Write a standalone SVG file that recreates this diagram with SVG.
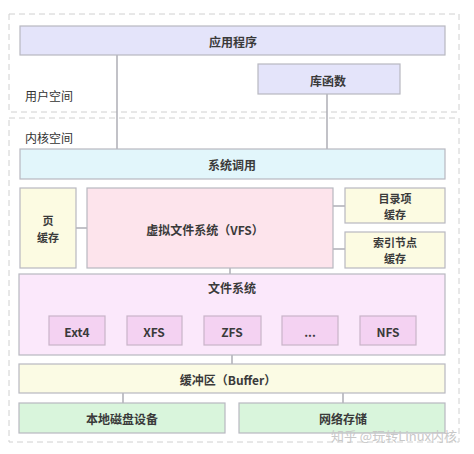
<svg xmlns="http://www.w3.org/2000/svg" width="474" height="454" viewBox="0 0 474 454">
<style>
.t{font-family:"Noto Sans CJK SC","Liberation Sans",sans-serif;font-size:12px;font-weight:bold;fill:#3a3a3a;text-anchor:middle;dominant-baseline:central}
.s{font-size:11px}
.l{font-family:"Noto Sans CJK SC","Liberation Sans",sans-serif;font-size:12px;fill:#333;dominant-baseline:central}
.b{stroke:#b8b8c0;stroke-width:1.2}
.zone{fill:none;stroke:#d0d0d0;stroke-width:1;stroke-dasharray:6 4}
.c{stroke:#a8a8b0;stroke-width:1.4;fill:none}
.fsi{fill:#f4d2f2;stroke:#c8b4c8;stroke-width:1.2}
</style>
<rect width="474" height="454" fill="#ffffff"/>
<g id="zones">
<rect class="zone" x="9" y="14" width="450" height="98"/>
<rect class="zone" x="9" y="118" width="450" height="324"/>
<text class="l" x="25" y="95">用户空间</text>
<text class="l" x="25" y="137">内核空间</text>
</g>
<g id="connectors">
<line class="c" x1="117" y1="55" x2="117" y2="149"/>
<line class="c" x1="327" y1="94" x2="327" y2="149"/>
<line class="c" x1="76" y1="228" x2="87" y2="228"/>
<line class="c" x1="333" y1="206" x2="345" y2="206"/>
<line class="c" x1="333" y1="249" x2="345" y2="249"/>
<line class="c" x1="230" y1="268" x2="230" y2="274"/>
<line class="c" x1="232" y1="355" x2="232" y2="364"/>
<line class="c" x1="123" y1="393" x2="123" y2="403"/>
<line class="c" x1="343" y1="393" x2="343" y2="403"/>
</g>
<g id="app"><rect class="b" x="20" y="26" width="425" height="29" fill="#e4e4fa"/><text class="t" x="233" y="41">应用程序</text></g>
<g id="lib"><rect class="b" x="258" y="64" width="142" height="30" fill="#e4e4fa"/><text class="t" x="328" y="80">库函数</text></g>
<g id="syscall"><rect class="b" x="20" y="149" width="425" height="30" fill="#e2f6fb"/><text class="t" x="232" y="164">系统调用</text></g>
<g id="pagecache"><rect class="b" x="20" y="188" width="56" height="80" fill="#fcfbe2"/><text class="t s" x="48" y="220">页</text><text class="t s" x="48" y="237">缓存</text></g>
<g id="vfs"><rect class="b" x="87" y="188" width="246" height="80" fill="#fde4ec"/><text class="t" x="205" y="229">虚拟文件系统（VFS）</text></g>
<g id="dentry"><rect class="b" x="345" y="188" width="100" height="35" fill="#fcfbe2"/><text class="t s" x="395" y="198">目录项</text><text class="t s" x="395" y="214">缓存</text></g>
<g id="inode"><rect class="b" x="345" y="232" width="100" height="36" fill="#fcfbe2"/><text class="t s" x="395" y="242">索引节点</text><text class="t s" x="395" y="258">缓存</text></g>
<g id="fs"><rect class="b" x="19" y="274" width="426" height="81" fill="#fbe8fb"/><text class="t" x="232" y="287">文件系统</text></g>
<g id="ext4"><rect class="fsi" x="49" y="316" width="56" height="29"/><text class="t" x="77" y="331">Ext4</text></g>
<g id="xfs"><rect class="fsi" x="127" y="316" width="55" height="29"/><text class="t" x="154" y="331">XFS</text></g>
<g id="zfs"><rect class="fsi" x="204" y="316" width="57" height="29"/><text class="t" x="232" y="331">ZFS</text></g>
<g id="etc"><rect class="fsi" x="282" y="316" width="56" height="29"/><text class="t" x="310" y="331">...</text></g>
<g id="nfs"><rect class="fsi" x="360" y="316" width="56" height="29"/><text class="t" x="388" y="331">NFS</text></g>
<g id="buffer"><rect class="b" x="19" y="364" width="426" height="29" fill="#fbfbe4"/><text class="t" x="228" y="379">缓冲区（Buffer）</text></g>
<g id="disk"><rect class="b" x="19" y="403" width="206" height="30" fill="#d9f5dc"/><text class="t" x="122" y="418">本地磁盘设备</text></g>
<g id="net"><rect class="b" x="239" y="403" width="206" height="30" fill="#d9f5dc"/><text class="t" x="343" y="418">网络存储</text></g>
<text x="394" y="435" font-family="Noto Sans CJK SC,Liberation Sans,sans-serif" font-size="13" fill="#c8c8c8" text-anchor="middle" dominant-baseline="central">知乎 @玩转Linux内核</text>
</svg>
